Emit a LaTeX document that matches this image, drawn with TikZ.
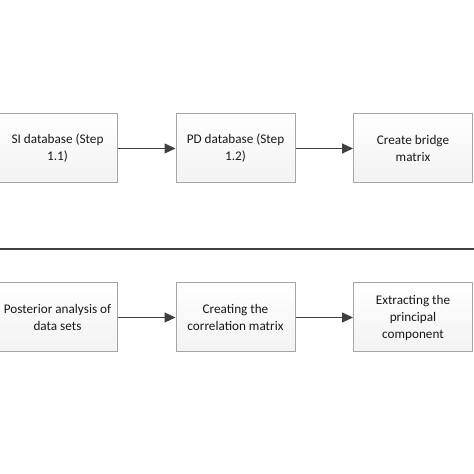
\documentclass[tikz,border=0pt]{standalone}
\usepackage{fontspec}
\setmainfont{Carlito}
\usetikzlibrary{arrows.meta}
\definecolor{boxline}{HTML}{A6A6A6}
\definecolor{arrowline}{HTML}{404040}
\tikzset{
  stepbox/.style={draw=boxline, line width=1pt, top color=white, bottom color=gray!10,
    minimum width=119pt, minimum height=69pt, align=center,
    font=\fontsize{13.2}{17}\selectfont, text=black!90, inner sep=2pt},
  flow/.style={draw=arrowline, line width=1.2pt, -{Triangle[length=11pt,width=10pt]}}
}
\begin{document}
\begin{tikzpicture}[x=1pt,y=1pt]
\useasboundingbox (0,0) rectangle (474,474);
\fill[white] (0,0) rectangle (474,474);
\node[stepbox] (si) at (57.5,325.5){SI database (Step\\1.1)};
\node[stepbox] (pd) at (235.5,325.5){PD database (Step\\1.2)};
\node[stepbox] (bridge) at (413,325.5){Create bridge\\matrix};
\draw[flow](si) -- (pd);
\draw[flow](pd) -- (bridge);
\coordinate (sepl) at (0,225);
\coordinate (sepr) at (474,225);
\draw[draw=arrowline, line width=1.8pt](sepl) -- (sepr);
\node[stepbox] (post) at (57.5,156.5){Posterior analysis of\\data sets};
\node[stepbox] (corr) at (235.5,156.5){Creating the\\correlation matrix};
\node[stepbox] (pc) at (413,156.5){Extracting the\\principal\\component};
\draw[flow](post) -- (corr);
\draw[flow](corr) -- (pc);
\end{tikzpicture}
\end{document}
